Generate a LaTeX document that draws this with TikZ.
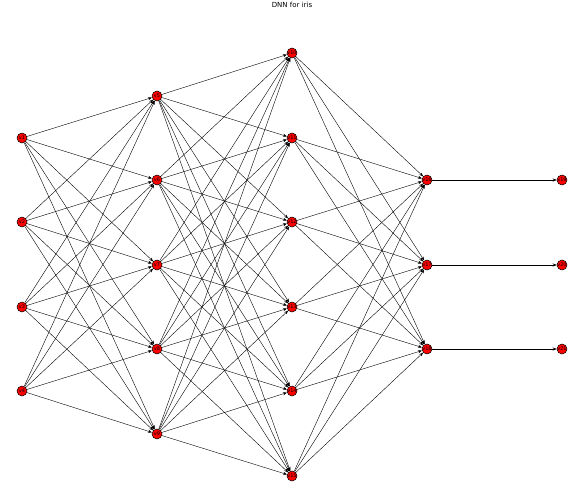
\documentclass[tikz,border=0pt]{standalone}
\usepackage{fontspec}
\setsansfont{DejaVu Sans}
\usetikzlibrary{arrows.meta}

\begin{document}
\begin{tikzpicture}[
  x=1pt, y=-1pt,
  font=\sffamily,
  neuron/.style={circle, draw=black, fill=red, line width=0.5pt, minimum size=10pt,
    inner sep=0pt, font=\sffamily\fontsize{5}{5}\selectfont},
  link/.style={line width=0.4pt, -{Stealth[length=4pt, width=3pt]}},
  caption/.style={font=\sffamily\fontsize{7}{8}\selectfont}
]

% Page in pixel units of the reference.
\useasboundingbox (0,0) rectangle (580,487);

\node[caption] (title) at (292,5) {DNN for iris};

% Input layer
\foreach \i/\y in {1/138, 2/222, 3/307, 4/391}
  \node[neuron] (v\i) at (22,\y) {v\i};
% First hidden layer
\foreach \i/\y in {5/96, 6/180, 7/265, 8/349, 9/434}
  \node[neuron] (v\i) at (157,\y) {v\i};
% Second hidden layer
\foreach \i/\y in {10/53, 11/138, 12/222, 13/307, 14/391, 15/476}
  \node[neuron] (v\i) at (292,\y) {v\i};
% Third hidden layer
\foreach \i/\y in {16/180, 17/265, 18/349}
  \node[neuron] (v\i) at (427,\y) {v\i};
% Output layer
\foreach \i/\y in {19/180, 20/265, 21/349}
  \node[neuron] (v\i) at (562,\y) {v\i};

% Fully connected between consecutive layers.
\foreach \a in {1,...,4}
  \foreach \b in {5,...,9}
    \draw[link] (v\a) -- (v\b);
\foreach \a in {5,...,9}
  \foreach \b in {10,...,15}
    \draw[link] (v\a) -- (v\b);
\foreach \a in {10,...,15}
  \foreach \b in {16,...,18}
    \draw[link] (v\a) -- (v\b);

% Last layer is one-to-one.
\foreach \a/\b in {16/19, 17/20, 18/21}
  \draw[link] (v\a) -- (v\b);

\end{tikzpicture}
\end{document}
